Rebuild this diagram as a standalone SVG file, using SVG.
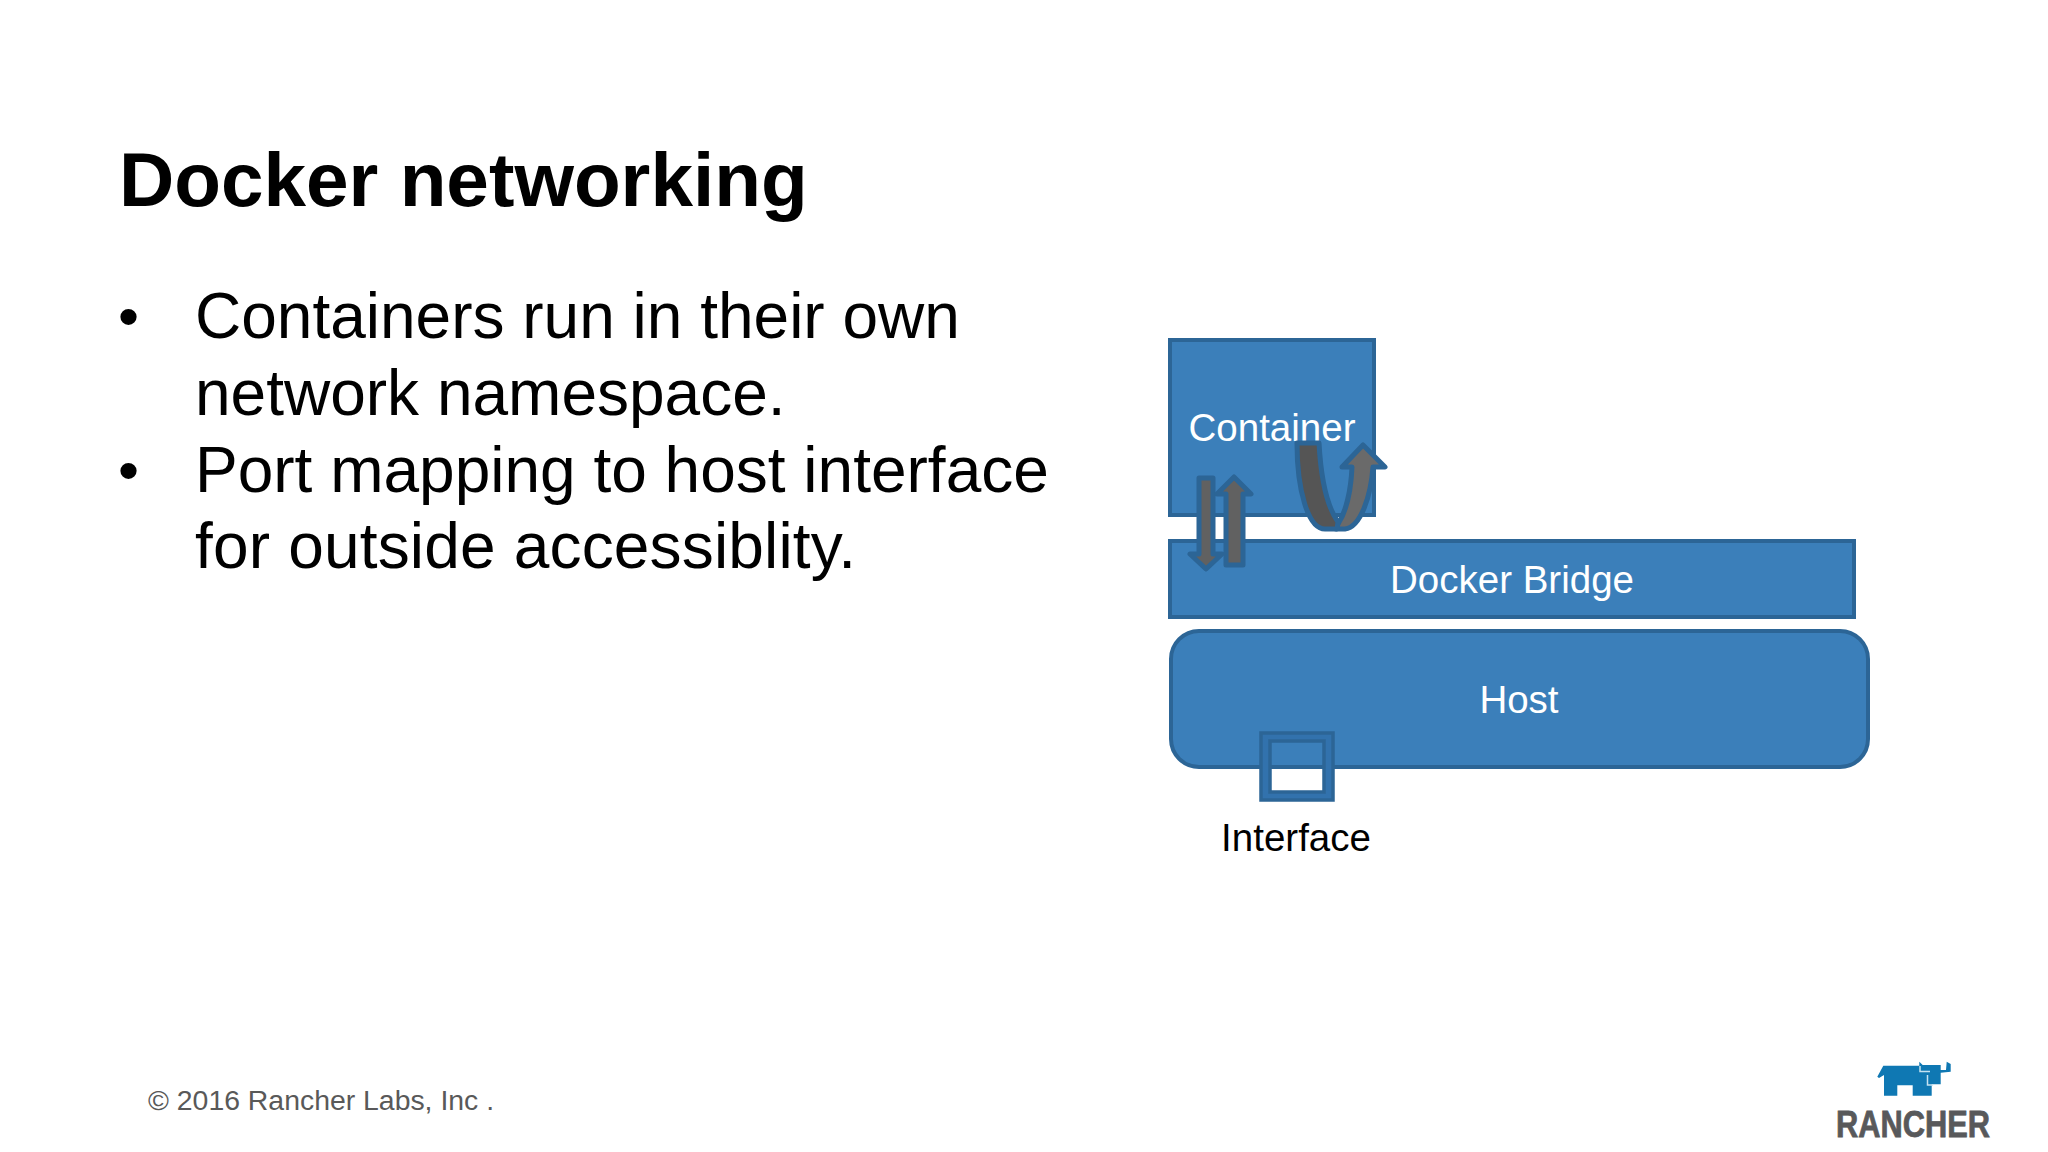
<svg xmlns="http://www.w3.org/2000/svg" width="2048" height="1152" viewBox="0 0 2048 1152">
<style>
text{font-family:"Liberation Sans",Arial,sans-serif}
.box{fill:#3b7fba;stroke:#2c6596;stroke-width:4}
.arrow{fill:#616161;stroke:#2c6596;stroke-width:5;stroke-linejoin:round}
.w{fill:#fff;font-size:38.5px;text-anchor:middle}
.b{fill:#000;font-size:64px}
.dot{fill:#000;font-size:60px}
</style>
<rect width="2048" height="1152" fill="#fff"/>
<text x="119" y="206" font-size="76.5" font-weight="700" fill="#000">Docker networking</text>
<text class="dot" x="118" y="337">•</text>
<text class="b" x="195" y="338">Containers run in their own</text>
<text class="b" x="195" y="415">network namespace.</text>
<text class="dot" x="118" y="491">•</text>
<text class="b" x="195" y="492">Port mapping to host interface</text>
<text class="b" x="195" y="568" textLength="661">for outside accessiblity.</text>
<g id="container"><rect class="box" x="1170" y="340" width="204" height="175"/><text class="w" x="1272" y="441">Container</text></g>
<g id="bridge"><rect class="box" x="1170" y="541" width="684" height="76"/><text class="w" x="1512" y="593">Docker Bridge</text></g>
<g id="host"><rect class="box" x="1171" y="631" width="697" height="136" rx="28"/><text class="w" x="1519" y="713">Host</text></g>
<g id="interface">
<path d="M1261 733H1333V800H1261ZM1270 741V792H1324V741Z" fill="#3272ad" fill-rule="evenodd" stroke="#2c6596" stroke-width="3.5"/>
<text x="1296" y="851" font-size="38.5" text-anchor="middle" fill="#000">Interface</text></g>
<g id="connectors">
<path class="arrow" d="M1199 478H1213V554H1222L1206 569L1190 554H1199Z"/>
<path class="arrow" d="M1226 565V494H1217L1234 477L1251 494H1243V565Z"/>
<path class="arrow" style="fill:#6a6a6a" d="M1338 524C1346 512 1351 490 1352 467H1342L1363 445L1385 467H1373C1371 495 1361 527 1345 529H1336Z"/>
<path class="arrow" style="fill:#555" d="M1297 443H1319C1321 480 1328 508 1338 522L1337 529H1325C1308 529 1297 490 1297 443Z"/>
</g>
<text x="148" y="1110" font-size="28.4" fill="#595959">© 2016 Rancher Labs, Inc .</text>
<g id="logo">
<path d="M1877.3 1076.7L1883.3 1065.7H1919.3V1061.7L1922.7 1065H1940.7V1070H1946L1946.7 1061.7L1950.7 1064V1071.7L1940.7 1072.7V1084.3H1931.7V1095.7H1912.7V1085.3H1897.3V1095.7H1884V1075L1879 1078Z" fill="#0f78b3"/>
<path d="M1920 1066V1071.5H1930M1927.5 1075V1085H1933" fill="none" stroke="#c5e2f1" stroke-width="1.5"/>
<text x="1836" y="1137" font-size="37" font-weight="700" fill="#58595b" stroke="#58595b" stroke-width=".8" textLength="154" lengthAdjust="spacingAndGlyphs">RANCHER</text>
</g>
</svg>
